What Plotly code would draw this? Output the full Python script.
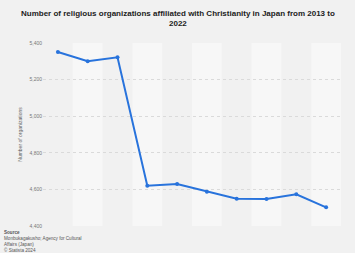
import plotly.graph_objects as go

years = [2013, 2014, 2015, 2016, 2017, 2018, 2019, 2020, 2021, 2022]
values = [5351, 5300, 5322, 4620, 4629, 4587, 4549, 4547, 4573, 4502]
y_ticks = [4400, 4600, 4800, 5000, 5200, 5400]
y_tick_labels = ["4,400", "4,600", "4,800", "5,000", "5,200", "5,400"]

title = "Number of religious organizations affiliated with Christianity in Japan from 2013 to<br>2022"
source = "<b>Source</b><br>Monbukagakusho; Agency for Cultural<br>Affairs (Japan)<br>© Statista 2024"

fig = go.Figure()
fig.add_trace(go.Scatter(
    x=years, y=values, mode="lines+markers",
    line=dict(color="#2873dc", width=2),
    marker=dict(size=4, color="#2873dc"),
    hoverinfo="skip",
))

shapes = []
for i, yr in enumerate(years):
    if i % 2 == 1:
        shapes.append(dict(type="rect", xref="x", yref="paper",
                           x0=yr - 0.5, x1=yr + 0.5, y0=0, y1=1,
                           fillcolor="#f7f7f7", line_width=0, layer="below"))

fig.update_layout(
    width=355, height=253,
    margin=dict(l=42.5, r=14, t=42.7, b=27),
    paper_bgcolor="#f1f1f1", plot_bgcolor="#f1f1f1",
    showlegend=False,
    shapes=shapes,
    xaxis=dict(range=[2012.5, 2022.5], showticklabels=False, showgrid=False,
               zeroline=False, ticks=""),
    yaxis=dict(range=[4400, 5400], tickvals=y_ticks, ticktext=y_tick_labels,
               showgrid=True, gridcolor="#dadada", griddash="dot", gridwidth=1,
               zeroline=False, ticks="",
               tickfont=dict(family="Liberation Sans, Arial", size=5, color="#777777"),
               title=dict(text="Number of organizations", standoff=6,
                          font=dict(family="Liberation Sans, Arial", size=5, color="#666666"))),
    annotations=[
        dict(text="<b>" + title + "</b>", xref="paper", yref="paper",
             x=0.453, y=1.1347, xanchor="center", yanchor="middle", showarrow=False,
             font=dict(family="Liberation Sans, Arial", size=8, color="#222222")),
        dict(text=source, xref="paper", yref="paper", x=-0.139, y=-0.012,
             xanchor="left", yanchor="top", align="left", showarrow=False,
             font=dict(family="Liberation Sans, Arial", size=4.6, color="#555555")),
    ],
)

fig.write_html("out.html")
